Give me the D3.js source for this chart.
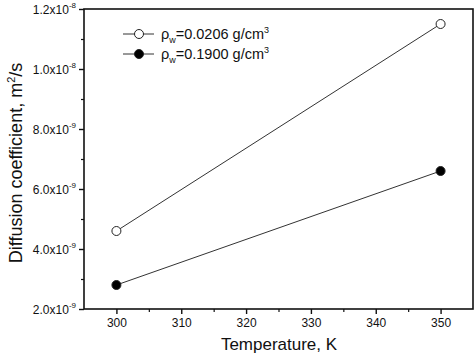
<!DOCTYPE html>
<html><head><meta charset="utf-8">
<script src="https://cdn.jsdelivr.net/npm/d3@7"></script>
<style>body{margin:0;background:#fff}svg{display:block;font-family:"Liberation Sans",Arial,sans-serif}</style>
</head><body><svg id="c" width="474" height="356"></svg>
<script>
const temperatures = [300, 350];
const seriesLabels = ["0.0206", "0.1900"];
const openValues = [4.6e-9, 1.15e-8];
const filledValues = [2.8e-9, 6.6e-9];
const xTicks = [300, 310, 320, 330, 340, 350];
const yTicks = [2e-9, 4e-9, 6e-9, 8e-9, 1e-8, 1.2e-8];
const yTickMant = ["2.0", "4.0", "6.0", "8.0", "1.0", "1.2"];
const yTickExp = ["-9", "-9", "-9", "-9", "-8", "-8"];

const svg = d3.select("#c");
const L = 84, R = 473, T = 9, B = 309;
const x = d3.scaleLinear().domain([295, 355]).range([L, R]);
const y = d3.scaleLinear().domain([2e-9, 1.2e-8]).range([B, T]);

// frame
svg.append("rect").attr("x", L).attr("y", T).attr("width", R - L).attr("height", B - T)
  .attr("fill", "none").attr("stroke", "#111").attr("stroke-width", 1.6);

// x axis
const gx = svg.append("g").attr("transform", `translate(0,${B})`);
gx.call(d3.axisBottom(x).tickValues(xTicks).tickSize(5).tickPadding(4).tickFormat(d3.format("d")));
gx.select(".domain").remove();
gx.selectAll(".tick line").attr("stroke", "#111").attr("stroke-width", 1.4);
gx.selectAll(".tick text").attr("font-size", 12).attr("fill", "#111").attr("font-family", "Liberation Sans, Arial, sans-serif");
const gxm = svg.append("g").attr("transform", `translate(0,${B})`);
gxm.call(d3.axisBottom(x).tickValues([305, 315, 325, 335, 345]).tickSize(3).tickFormat(""));
gxm.select(".domain").remove();
gxm.selectAll(".tick line").attr("stroke", "#111").attr("stroke-width", 1.2);

// y axis
const gy = svg.append("g").attr("transform", `translate(${L},0)`);
gy.call(d3.axisLeft(y).tickValues(yTicks).tickSize(5).tickFormat(""));
gy.select(".domain").remove();
gy.selectAll(".tick line").attr("stroke", "#111").attr("stroke-width", 1.4);
const gym = svg.append("g").attr("transform", `translate(${L},0)`);
gym.call(d3.axisLeft(y).tickValues([3e-9, 5e-9, 7e-9, 9e-9, 1.1e-8]).tickSize(3).tickFormat(""));
gym.select(".domain").remove();
gym.selectAll(".tick line").attr("stroke", "#111").attr("stroke-width", 1.2);

yTicks.forEach((v, i) => {
  const t = svg.append("text").attr("x", 76).attr("y", y(v) + 4.5)
    .attr("text-anchor", "end").attr("font-size", 12).attr("fill", "#111");
  t.append("tspan").text(yTickMant[i] + "x10");
  t.append("tspan").attr("dy", -6).attr("font-size", 8).text(yTickExp[i]);
});

// axis titles
svg.append("text").attr("x", 279).attr("y", 350).attr("text-anchor", "middle")
  .attr("font-size", 17).attr("fill", "#111").text("Temperature, K");
const yt = svg.append("text").attr("transform", `translate(22,${(T + B) / 2 + 4}) rotate(-90)`)
  .attr("text-anchor", "middle").attr("font-size", 18).attr("fill", "#111");
yt.append("tspan").text("Diffusion coefficient, m");
yt.append("tspan").attr("dy", -7).attr("font-size", 11).text("2");
yt.append("tspan").attr("dy", 7).text("/s");

// series
const line = d3.line().x((d, i) => x(temperatures[i])).y(d => y(d));
const series = [{v: openValues, fill: "#fff"}, {v: filledValues, fill: "#000"}];
series.forEach(s => {
  svg.append("path").attr("d", line(s.v)).attr("fill", "none").attr("stroke", "#333").attr("stroke-width", 1);
  svg.selectAll(null).data(s.v).enter().append("circle")
    .attr("cx", (d, i) => x(temperatures[i])).attr("cy", d => y(d)).attr("r", 4.5)
    .attr("fill", s.fill).attr("stroke", "#222").attr("stroke-width", 1);
});

// legend
series.forEach((s, i) => {
  const ly = 34 + i * 20;
  svg.append("line").attr("x1", 123).attr("x2", 154).attr("y1", ly).attr("y2", ly).attr("stroke", "#333").attr("stroke-width", 1);
  svg.append("circle").attr("cx", 139).attr("cy", ly).attr("r", 4.5).attr("fill", s.fill).attr("stroke", "#222");
  const t = svg.append("text").attr("x", 161).attr("y", ly + 5).attr("font-size", 14.5).attr("fill", "#111");
  t.append("tspan").text("ρ");
  t.append("tspan").attr("dy", 4).attr("font-size", 9).text("w");
  t.append("tspan").attr("dy", -4).text("=" + seriesLabels[i] + " g/cm");
  t.append("tspan").attr("dy", -6).attr("font-size", 9).text("3");
});
</script></body></html>
